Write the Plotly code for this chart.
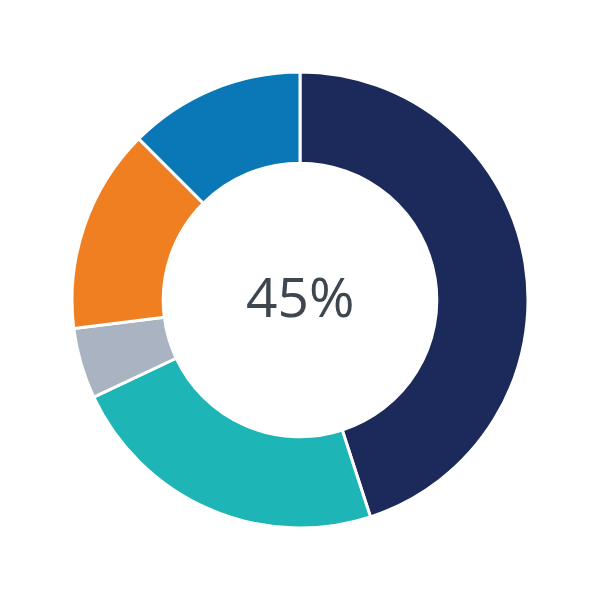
import plotly.graph_objects as go

# slice data, clockwise from 12 o'clock
labels = ["Navy", "Teal", "Gray", "Orange", "Blue"]
values = [45, 23, 5, 14.5, 12.5]
colors = ["#1b2a5a", "#1db5b6", "#a9b3c1", "#f07f21", "#0a78b7"]
center_text = "45%"

fig = go.Figure(go.Pie(
    labels=labels,
    values=values,
    hole=0.6,
    sort=False,
    direction="clockwise",
    rotation=0,
    marker=dict(colors=colors, line=dict(color="white", width=3)),
    textinfo="none",
    hoverinfo="label+percent",
))

fig.add_annotation(
    text=center_text, x=0.5, y=0.5, xref="paper", yref="paper", yshift=5,
    showarrow=False, font=dict(family="Open Sans", size=55, color="#3e4650"),
)

# page body adds ~8px offset, so margins are uneven
fig.update_layout(
    width=600, height=600,
    margin=dict(l=64, r=80, t=64, b=80),
    showlegend=False,
    paper_bgcolor="white",
)

fig.write_html("out.html")
